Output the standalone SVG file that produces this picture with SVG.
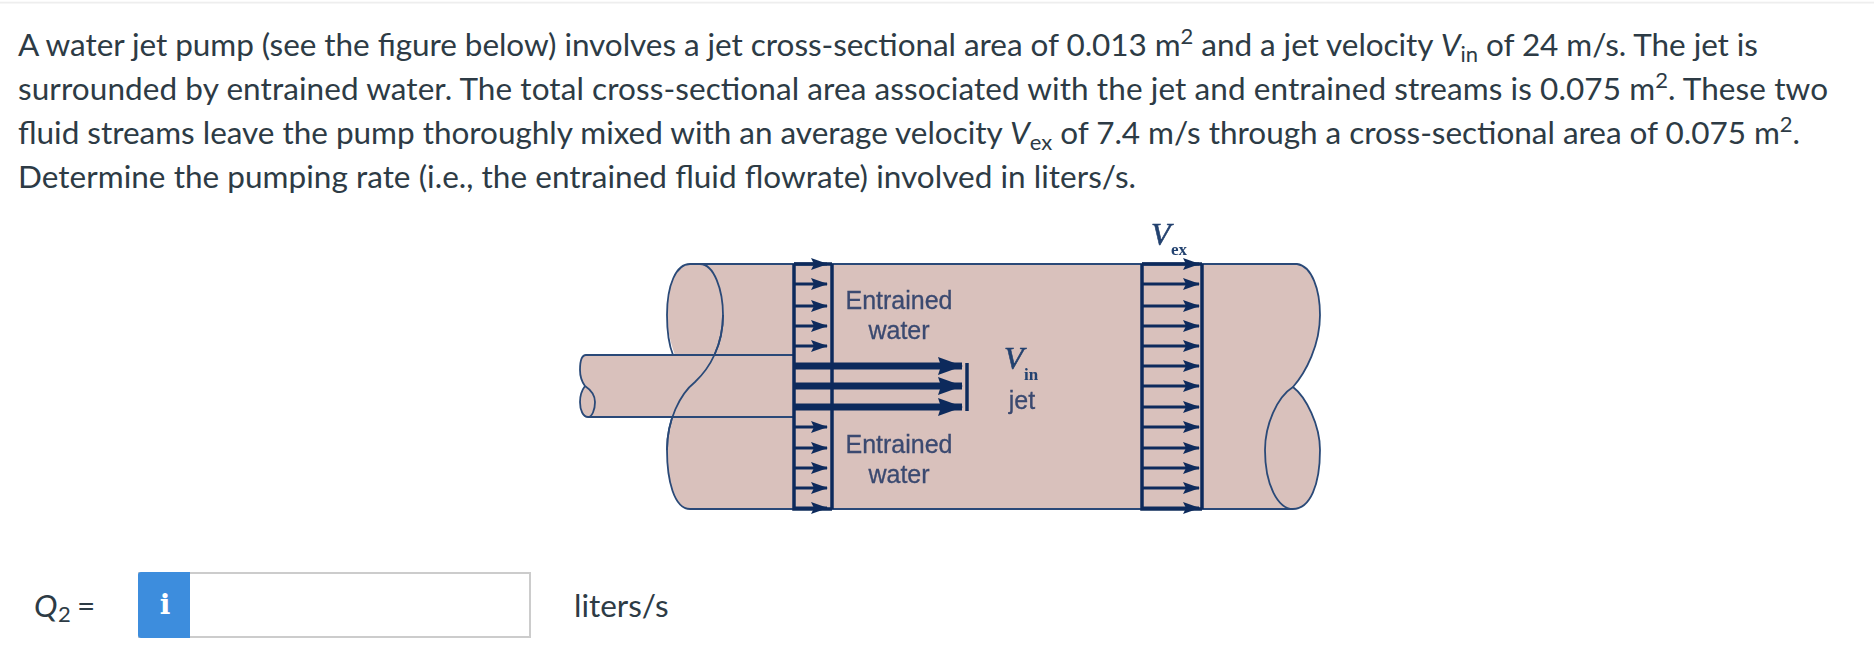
<svg xmlns="http://www.w3.org/2000/svg" width="1874" height="668" viewBox="0 0 1874 668">
<style>
.q{font-family:Lato,"Liberation Sans",sans-serif;font-size:31.5px;fill:#2d3b45}
.s{font-size:22px}
.i{font-style:italic}
.d{font-family:"Liberation Sans",Arimo,sans-serif;font-size:25px;fill:#3b4a70;text-anchor:middle;stroke:#3b4a70;stroke-width:.3}
.v{font-family:"Liberation Serif",serif;font-style:italic;font-size:32px;fill:#24426f;stroke:#24426f;stroke-width:.6}
.b{font-family:"Liberation Serif",serif;font-size:17px;fill:#24426f;font-weight:bold}
.body{fill:#d9c1bc;stroke:none}
.o{fill:none;stroke:#2a4a78;stroke-width:1.8}
.bar{fill:none;stroke:#0f2c5c;stroke-width:3.5}
.a{fill:none;stroke:#0f2c5c;stroke-width:3;marker-end:url(#h)}
.j{fill:none;stroke:#0f2c5c;stroke-width:7;marker-end:url(#hj)}
</style>
<defs>
<marker id="h" markerUnits="userSpaceOnUse" viewBox="0 0 17 14" refX="16" refY="7" markerWidth="17" markerHeight="14" orient="auto"><path d="M0 1L17 7L0 13L3 7Z" fill="#0f2c5c"/></marker>
<marker id="hj" markerUnits="userSpaceOnUse" viewBox="0 0 25 20" refX="24" refY="10" markerWidth="25" markerHeight="20" orient="auto"><path d="M0 1L25 10L0 19L3 10Z" fill="#0f2c5c"/></marker>
<filter id="soft" x="-2%" y="-2%" width="104%" height="104%"><feGaussianBlur stdDeviation="0.5"/></filter>
</defs>
<rect width="1874" height="668" fill="#fff"/>
<rect x="0" y="1.7" width="1874" height="1.8" fill="#eeeeee"/>
<g id="question">
<text class="q" x="18" y="56" textLength="1740">A water jet pump (see the figure below) involves a jet cross-sectional area of 0.013 m<tspan class="s" dy="-12">2</tspan><tspan dy="12"> and a jet velocity </tspan><tspan class="i">V</tspan><tspan class="s" dy="6">in</tspan><tspan dy="-6"> of 24 m/s. The jet is</tspan></text>
<text class="q" x="18" y="99.5" textLength="1810">surrounded by entrained water. The total cross-sectional area associated with the jet and entrained streams is 0.075 m<tspan class="s" dy="-12">2</tspan><tspan dy="12">. These two</tspan></text>
<text class="q" x="18" y="144" textLength="1782">fluid streams leave the pump thoroughly mixed with an average velocity <tspan class="i">V</tspan><tspan class="s" dy="6">ex</tspan><tspan dy="-6"> of 7.4 m/s through a cross-sectional area of 0.075 m</tspan><tspan class="s" dy="-12">2</tspan><tspan dy="12">.</tspan></text>
<text class="q" x="18" y="188" textLength="1118">Determine the pumping rate (i.e., the entrained fluid flowrate) involved in liters/s.</text>
</g>
<g id="figure" filter="url(#soft)">
<g id="pipe">
<path class="body" d="M690 264H1297C1312 266 1320 290 1320 315C1320 345 1306 372 1293 387C1306 397 1320 425 1320 450C1320 485 1310 509 1293 509H690C674 509 667 480 667 450C667 425 675 402 691 386C680 372 667 340 667 315C667 285 676 264 690 264Z"/>
<path class="o" d="M795 264H690C676 264 667 285 667 315C667 330 669 345 673 355M700 264C714 264 723 290 723 315C723 345 710 368 695 382C680 394 667 420 667 450C667 480 674 509 690 509H795M832 264H1142M832 509H1142M1202 264H1297C1312 266 1320 290 1320 315C1320 345 1306 372 1293 387C1306 397 1320 425 1320 450C1320 485 1310 509 1293 509H1202"/>
<path class="o" d="M1293 387C1277 397 1265 425 1265 450C1265 485 1278 509 1293 509"/>
</g>
<g id="jet-tube">
<path class="body" d="M586 355H794V417H588C583 417 580 410 580 402C580 395 582 390 585 386C582 382 580 378 580 370C580 360 582 355 586 355Z"/>
<path class="o" d="M794 355H586C582 355 580 360 580 370C580 378 582 382 585 386C591 390 595 395 595 402C595 410 592 417 588 417H794M585 386C582 390 580 395 580 402C580 410 583 417 588 417"/>
<path class="o" d="M723 315C723 345 710 368 695 382C680 394 667 420 667 450"/>
</g>
<g id="connectors">
<path class="bar" d="M832 264V509M794 264V509H832M794 264H832"/>
<path class="a" d="M794 264H827"/><path class="a" d="M794 284H827"/><path class="a" d="M794 306H827"/><path class="a" d="M794 326H827"/><path class="a" d="M794 346H827"/>
<path class="a" d="M794 427H827"/><path class="a" d="M794 448H827"/><path class="a" d="M794 468H827"/><path class="a" d="M794 488H827"/><path class="a" d="M794 508H827"/>
<path class="j" d="M794 366H962"/><path class="j" d="M794 386H962"/><path class="j" d="M794 407H962"/>
<path class="bar" d="M967 363V411"/>
<path class="bar" d="M1202 264V509M1142 264V509H1202M1142 264H1202"/>
<path class="a" d="M1142 264H1199"/><path class="a" d="M1142 284H1199"/><path class="a" d="M1142 306H1199"/><path class="a" d="M1142 326H1199"/><path class="a" d="M1142 346H1199"/><path class="a" d="M1142 366H1199"/><path class="a" d="M1142 386H1199"/><path class="a" d="M1142 407H1199"/><path class="a" d="M1142 427H1199"/><path class="a" d="M1142 448H1199"/><path class="a" d="M1142 468H1199"/><path class="a" d="M1142 488H1199"/><path class="a" d="M1142 508H1199"/>
</g>
<g id="label-entrained-top"><text class="d" x="899" y="309">Entrained</text><text class="d" x="899" y="339">water</text></g>
<g id="label-entrained-bottom"><text class="d" x="899" y="453">Entrained</text><text class="d" x="899" y="483">water</text></g>
<g id="label-vin"><text class="v" x="1004" y="369">V</text><text class="b" x="1024" y="380">in</text></g>
<g id="label-jet"><text class="d" x="1022" y="409">jet</text></g>
<g id="label-vex"><text class="v" x="1151" y="245">V</text><text class="b" x="1171" y="255">ex</text></g>
</g>
<g id="answer">
<text class="q i" x="34" y="617">Q</text>
<text class="q s" x="58" y="622">2</text>
<text class="q" x="77" y="617" font-size="26">=</text>
<rect x="139" y="573" width="391" height="64" fill="#fff" stroke="#cccccc" stroke-width="2"/>
<path d="M141 572H190V638H141Q138 638 138 635V575Q138 572 141 572Z" fill="#3d8ddd"/>
<text x="165" y="614" font-family="DejaVu Serif" font-weight="bold" font-size="28" fill="#fff" text-anchor="middle">i</text>
<text class="q" x="574" y="617">liters/s</text>
</g>
</svg>
